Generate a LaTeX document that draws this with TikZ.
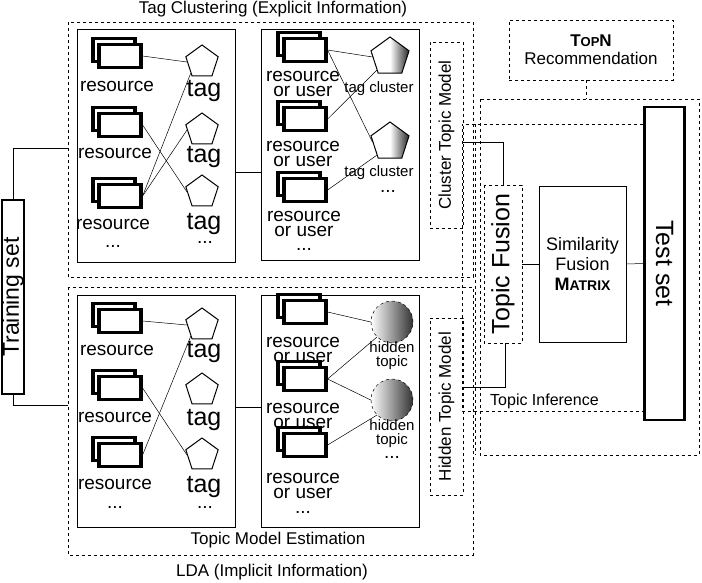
\documentclass[tikz,border=0pt]{standalone}
\usepackage{fontspec}
\setmainfont{Liberation Sans}
\usetikzlibrary{shapes.geometric,shadows}
\begin{document}
\begin{tikzpicture}[x=1pt,y=-1pt,
  dbox/.style={draw,dashed,line width=0.7pt},
  sbox/.style={draw,line width=0.8pt},
  res/.style={draw,line width=3.2pt,fill=white,minimum width=42,minimum height=23,inner sep=0,
     copy shadow={shadow xshift=-6pt,shadow yshift=6pt,draw,line width=3.2pt,fill=white}},
  tagp/.style={draw,regular polygon,regular polygon sides=5,minimum size=34,inner sep=0,line width=1pt,fill=white},
  clus/.style={tagp,minimum size=40,left color=white,right color=black!85,middle color=white},
  hid/.style={circle,draw,dashed,minimum size=42,inner sep=0,line width=0.5pt,left color=white,right color=black!80},
  lbl/.style={font=\fontsize{19}{15.5}\selectfont,align=center,inner sep=0},
  tg/.style={font=\fontsize{25}{24}\selectfont,inner sep=0},
  sm/.style={font=\fontsize{15}{14}\selectfont,align=center,inner sep=0},
  ln/.style={line width=0.5pt}]
\useasboundingbox (0,0) rectangle (702,582);
% outer dashed
\draw[dbox] (68,22) rectangle (473,277);
\draw[dbox] (68,287) rectangle (473,555);
\node[font=\fontsize{17}{17}\selectfont] (t1) at (273,9) {Tag Clustering (Explicit Information)};
\node[font=\fontsize{17}{17}\selectfont] (t2) at (278,540) {Topic Model Estimation};
\node[font=\fontsize{17}{17}\selectfont] (t3) at (272,572) {LDA (Implicit Information)};
% training set
\node[draw,line width=2.6pt,minimum width=194,minimum height=22,rotate=90,font=\fontsize{23}{23}\selectfont,inner sep=0] (train) at (13,297) {Training set};
\coordinate (tl1) at (68,148); \coordinate (tl2) at (68,405);
\draw[ln] (train.east) -- (13,148) -- (tl1);
\draw[ln] (train.west) -- (13,405) -- (tl2);
% inner panels
\node[sbox,minimum width=158,minimum height=233,inner sep=0] (p1) at (156,145.5) {};
\node[sbox,minimum width=158,minimum height=231,inner sep=0] (p2) at (340,144.5) {};
\node[sbox,minimum width=158,minimum height=232,inner sep=0] (p3) at (156,411) {};
\node[sbox,minimum width=158,minimum height=232,inner sep=0] (p4) at (340,411) {};
\draw[ln] (p1.east|-0,172) -- (p2.west|-0,172);
\draw[ln] (p3.east|-0,407) -- (p4.west|-0,407);
% ---- top left
\foreach \i/\y in {1/56,2/125,3/196}{\node[res] (a\i) at (120,\y) {};}
\node[lbl] at (117,86) {resource};
\node[lbl] at (115,153) {resource};
\node[lbl] at (113,224) {resource};
\node[lbl] at (113,246) {...};
\foreach \i/\y in {1/62,2/130,3/192}{\node[tagp] (b\i) at (202,\y) {};}
\node[tg] at (204,91) {tag};
\node[tg] at (204,157) {tag};
\node[tg] at (204,224) {tag};
\node[lbl] at (205,242) {...};
\draw[ln] (a1.east) -- (b1.west);
\draw[ln] (a3.east) -- (b1.south west);
\draw[ln] (a3.east) -- (b2.west);
\draw[ln] (a2.east) -- (b3.west);
% ---- top middle
\foreach \i/\y in {1/50,2/119,3/190}{\node[res] (c\i) at (305,\y) {};}
\node[lbl] at (303,84) {resource\\or user};
\node[lbl] at (303,154) {resource\\or user};
\node[lbl] at (304,224) {resource\\or user};
\node[lbl] at (304,249) {...};
\node[clus] (d1) at (390,57) {};
\node[clus] (d2) at (390,142) {};
\node[sm] at (379,89) {tag cluster};
\node[sm] at (379,173) {tag cluster};
\node[lbl] at (388,191) {...};
\draw[ln] (c1.east) -- (d1.west);
\draw[ln] (c1.east) -- (d2.west);
\draw[ln] (c2.east) -- (d1.south west);
\draw[ln] (c3.east) -- (d2.south west);
\node[dbox,minimum width=33,minimum height=186,inner sep=0] (ctm) at (446.5,135) {};
\node[rotate=90,font=\fontsize{17}{17}\selectfont] at (ctm) {Cluster Topic Model};
% ---- bottom left
\foreach \i/\y in {1/321,2/388,3/455}{\node[res] (e\i) at (120,\y) {};}
\node[lbl] at (117,350) {resource};
\node[lbl] at (115,417) {resource};
\node[lbl] at (115,484) {resource};
\node[lbl] at (115,507) {...};
\foreach \i/\y in {1/325,2/390,3/455}{\node[tagp] (f\i) at (202,\y) {};}
\node[tg] at (204,352) {tag};
\node[tg] at (204,420) {tag};
\node[tg] at (204,487) {tag};
\node[lbl] at (205,507) {...};
\draw[ln] (e1.east) -- (f1.west);
\draw[ln] (e3.east) -- (f1.south west);
\draw[ln] (e2.east) -- (f3.west);
% ---- bottom middle
\foreach \i/\y in {1/312,2/379,3/445}{\node[res] (g\i) at (305,\y) {};}
\node[lbl] at (303,350) {resource\\or user};
\node[lbl] at (303,416) {resource\\or user};
\node[lbl] at (303,486) {resource\\or user};
\node[lbl] at (303,512) {...};
\node[hid] (h1) at (392,322) {};
\node[hid] (h2) at (392,400) {};
\node[sm] at (392,356) {hidden\\topic};
\node[sm] at (392,434) {hidden\\topic};
\node[lbl] at (392,457) {...};
\draw[ln] (g1.east) -- (h1.west);
\draw[ln] (g2.east) -- (h1.south west);
\draw[ln] (g2.east) -- (h2.west);
\draw[ln] (g3.east) -- (h2.south west);
\node[dbox,minimum width=33,minimum height=177,inner sep=0] (htm) at (446.5,406.5) {};
\node[rotate=90,font=\fontsize{17}{17}\selectfont] at (htm) {Hidden Topic Model};
% ---- right region
\draw[dbox] (480,99) rectangle (699,455);
\draw[dbox] (643,124) -- (462,124) -- (462,411) -- (643,411);
\draw[dbox] (475,124) -- (475,455);
\node[font=\fontsize{16}{16}\selectfont,anchor=west,inner sep=0] (ti) at (490,401) {Topic Inference};
\node[dbox,minimum width=164,minimum height=60,inner sep=0,align=center,font=\fontsize{17}{18}\selectfont] (topn) at (591,50) {\textbf{T{\fontsize{13}{13}\selectfont OP}N}\\Recommendation};
\draw[dbox] (topn.south-|586,0) -- (586,99);
\node[draw,line width=2.8pt,minimum width=313,minimum height=40,rotate=-90,inner sep=0,fill=white,font=\fontsize{25}{25}\selectfont] (test) at (664.5,263.5) {Test set};
\node[dbox,fill=white,minimum width=158,minimum height=38,rotate=90,inner sep=0,font=\fontsize{25}{25}\selectfont] (tf) at (503,264) {Topic Fusion};
\node[sbox,minimum width=87,minimum height=156,inner sep=0,align=center,font=\fontsize{18}{20}\selectfont] (sim) at (582.5,264) {Similarity\\Fusion\\\textbf{M{\fontsize{14}{14}\selectfont ATRIX}}};
\draw[ln] (tf.south) -- (sim.west);
\draw[ln] (sim.east) -- (test.south);
\draw[ln] (ctm.east|-0,142) -- (503,142) -- (tf.east);
\draw[ln] (htm.east|-0,387) -- (505,387) -- (tf.west-|505,0);
\end{tikzpicture}
\end{document}
